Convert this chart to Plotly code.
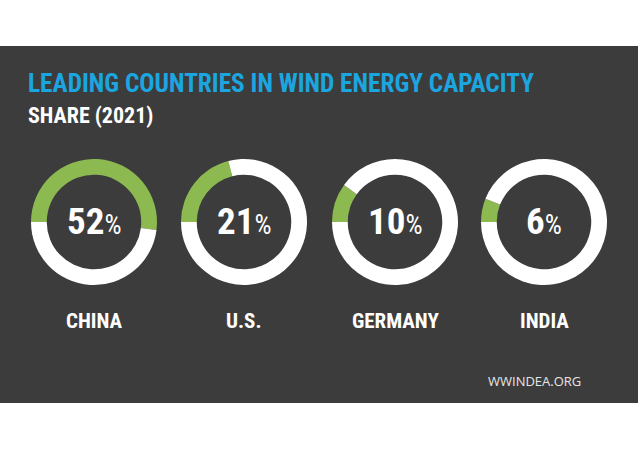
import plotly.graph_objects as go

countries = ["CHINA", "U.S.", "GERMANY", "INDIA"]
shares = [52, 21, 10, 6]

W, H = 638, 451
BG_DARK = "#3c3c3c"
GREEN = "#8cba51"
BLUE = "#1ba6e0"
FAM = "Roboto"
ST = "font-stretch:condensed"

centers_x = [94, 244, 395, 544]
center_y = 222
radius = 63

fig = go.Figure()

for cx, share in zip(centers_x, shares):
    fig.add_trace(go.Pie(
        values=[share, 100 - share],
        labels=["share", "rest"],
        marker=dict(colors=[GREEN, "#ffffff"], line=dict(width=0)),
        hole=0.75,
        sort=False,
        direction="clockwise",
        rotation=270,
        textinfo="none",
        hoverinfo="skip",
        showlegend=False,
        domain=dict(
            x=[(cx - radius) / W, (cx + radius) / W],
            y=[1 - (center_y + radius) / H, 1 - (center_y - radius) / H],
        ),
    ))

annotations = []
for cx, share, name in zip(centers_x, shares, countries):
    annotations.append(dict(
        x=cx / W, y=1 - center_y / H, xref="paper", yref="paper",
        text=f"<span style='{ST}'><b>{share}</b></span><span style='{ST};font-size:27px'>%</span>",
        showarrow=False, xanchor="center", yanchor="middle",
        font=dict(family=FAM, size=37, color="white"),
    ))
    annotations.append(dict(
        x=cx / W, y=1 - 321 / H, xref="paper", yref="paper",
        text=f"<span style='{ST}'><b>{name}</b></span>",
        showarrow=False, xanchor="center", yanchor="middle",
        font=dict(family=FAM, size=21, color="white"),
    ))

annotations.append(dict(
    x=26 / W, y=1 - 83.5 / H, xref="paper", yref="paper",
    text=f"<span style='{ST}'><b>LEADING COUNTRIES IN WIND ENERGY CAPACITY</b></span>",
    showarrow=False, xanchor="left", yanchor="middle",
    font=dict(family=FAM, size=25.3, color=BLUE),
))
annotations.append(dict(
    x=26 / W, y=1 - 115.5 / H, xref="paper", yref="paper",
    text=f"<span style='{ST}'><b>SHARE (2021)</b></span>",
    showarrow=False, xanchor="left", yanchor="middle",
    font=dict(family=FAM, size=22, color="white"),
))
annotations.append(dict(
    x=583 / W, y=1 - 381 / H, xref="paper", yref="paper",
    text="WWINDEA.ORG",
    showarrow=False, xanchor="right", yanchor="middle",
    font=dict(family="Open Sans, DejaVu Sans, sans-serif", size=13, color="#e6e6e6"),
))

fig.update_layout(
    width=W, height=H,
    margin=dict(l=0, r=0, t=0, b=0),
    paper_bgcolor="white",
    plot_bgcolor="white",
    shapes=[dict(
        type="rect", xref="paper", yref="paper",
        x0=0, x1=1, y0=1 - 403 / H, y1=1 - 46 / H,
        fillcolor=BG_DARK, line=dict(width=0), layer="below",
    )],
    annotations=annotations,
    showlegend=False,
)

fig.write_html("out.html", config={"displayModeBar": False},
               post_script="document.body.style.margin='0';")
